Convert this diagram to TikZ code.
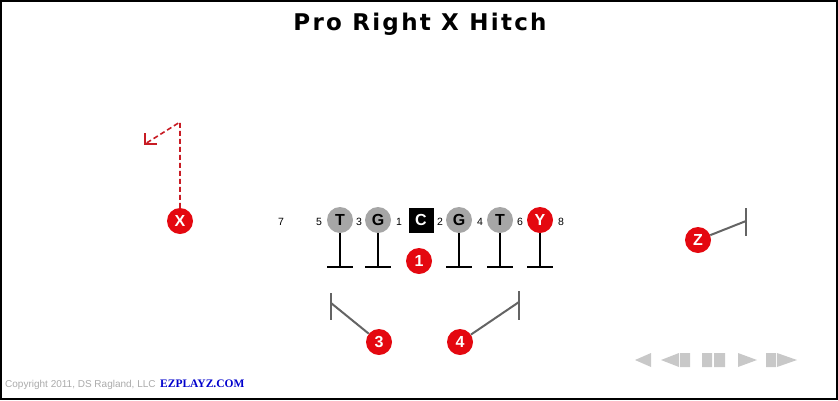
\documentclass[tikz,border=0pt]{standalone}
\usepackage{fontspec}
\setmainfont{Liberation Sans}
\newfontfamily\titlefont[LetterSpace=10]{DejaVu Sans}
\newfontfamily\ezfont{Liberation Serif}
\usetikzlibrary{arrows.meta}
\definecolor{playred}{RGB}{228,8,16}
\definecolor{passred}{RGB}{200,28,36}
\definecolor{linegray}{RGB}{166,166,166}
\definecolor{routegray}{RGB}{100,100,100}
\definecolor{icongray}{RGB}{200,200,200}
\definecolor{copygray}{RGB}{170,170,170}
\definecolor{ezblue}{RGB}{0,0,204}

\begin{document}
\begin{tikzpicture}[x=1pt,y=-1pt,
  player/.style={circle,fill=playred,minimum size=26pt,inner sep=0pt,text=white,font=\fontsize{16}{16}\selectfont\bfseries},
  lineman/.style={player,fill=linegray,text=black},
  snapbox/.style={rectangle,fill=black,minimum size=25pt,inner sep=0pt,text=white,font=\fontsize{16}{16}\selectfont\bfseries},
  gap/.style={inner sep=0pt,font=\fontsize{10.5}{10.5}\selectfont},
  block/.style={line width=2pt},
  route/.style={routegray,line width=2pt},
  pass/.style={passred,line width=1.6pt,dash pattern=on 5pt off 3pt}]
\useasboundingbox (0,0) rectangle (838,400);
\draw[line width=2pt] (1,1) rectangle (837,399);
\node[anchor=base,inner sep=0pt,font=\titlefont\bfseries\fontsize{23}{24}\selectfont] (title) at (420,30) {Pro Right X Hitch};
\node[player] (X) at (180,221) {X};
\node[lineman] (TL) at (340,220) {T};
\node[lineman] (GL) at (378,220) {G};
\node[snapbox] (C) at (421,220) {C};
\node[lineman] (GR) at (459,220) {G};
\node[lineman] (TR) at (500,220) {T};
\node[player] (Y) at (540,220) {Y};
\node[player] (B1) at (419,261) {1};
\node[player] (B3) at (379,342) {3};
\node[player] (B4) at (460,342) {4};
\node[player] (Z) at (698,240) {Z};
\node[gap] (g7) at (281,222) {7};
\node[gap] (g5) at (319,222) {5};
\node[gap] (g3) at (359,222) {3};
\node[gap] (g1) at (399,222) {1};
\node[gap] (g2) at (440,222) {2};
\node[gap] (g4) at (480,222) {4};
\node[gap] (g6) at (520,222) {6};
\node[gap] (g8) at (561,222) {8};
\foreach \p in {TL,GL,GR,TR,Y}{
  \draw[block] (\p.south) -- ++(0,34) coordinate (\p-end);
  \draw[block] ([xshift=-13pt]\p-end) -- ([xshift=13pt]\p-end);
}
\coordinate (Xbreak) at (180,122);
\coordinate (Xend) at (145,144);
\draw[pass] (X) -- (Xbreak) -- (Xend);
\draw[passred,line width=1.8pt] ([xshift=12pt]Xend) -- (Xend) -- ([yshift=11pt]Xend);
\coordinate (r3) at (331,303);
\draw[route] (B3) -- (r3);
\draw[route] ([yshift=10pt]r3) -- ([yshift=-17pt]r3);
\coordinate (r4) at (519,302);
\draw[route] (B4) -- (r4);
\draw[route] ([yshift=11pt]r4) -- ([yshift=-18pt]r4);
\coordinate (rz) at (746,221);
\draw[route] (Z) -- (rz);
\draw[route] ([yshift=13pt]rz) -- ([yshift=-15pt]rz);
\fill[icongray] (651,353) -- (635,360) -- (651,367) -- cycle;
\fill[icongray] (679,353) -- (661,360) -- (679,367) -- cycle (680,353) rectangle (690,367);
\fill[icongray] (702,353) rectangle (712,367) (714,353) rectangle (725,367);
\fill[icongray] (738,353) -- (757,360) -- (738,367) -- cycle;
\fill[icongray] (766,353) rectangle (776,367) (777,353) -- (797,360) -- (777,367) -- cycle;
\node[anchor=base west,inner sep=0pt,text=copygray,font=\fontsize{10}{10}\selectfont] (copy) at (5,387) {Copyright 2011, DS Ragland, LLC};
\node[anchor=base west,inner sep=0pt,text=ezblue,font=\ezfont\bfseries\fontsize{11.5}{11.5}\selectfont] (ez) at (160,387) {EZPLAYZ.COM};
\end{tikzpicture}
\end{document}
